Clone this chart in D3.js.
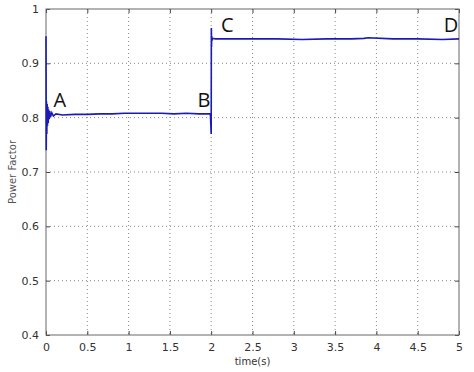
<!DOCTYPE html>
<html>
<head>
<meta charset="utf-8">
<script src="https://cdn.jsdelivr.net/npm/d3@7"></script>
<style>
  body { margin: 0; background: #fff; }
  svg { display: block; }
</style>
</head>
<body>
<div id="chart"></div>
<script>
// time axis samples (s) and power factor readings
const timeS = [0, 0.003, 0.006, 0.01, 0.014, 0.018, 0.022, 0.027, 0.032, 0.038, 0.045, 0.055, 0.07, 0.09, 0.12,
  0.2, 0.35, 0.5, 0.65, 0.8, 0.95, 1.1, 1.25, 1.4, 1.55, 1.7, 1.85, 1.99,
  2.0, 2.002, 2.004, 2.006, 2.01, 2.02, 2.05, 2.2, 2.5, 2.8, 3.1, 3.4, 3.7, 3.85, 3.9, 4.2, 4.5, 4.8, 5.0];
const powerFactor = [0.95, 0.74, 0.83, 0.77, 0.825, 0.785, 0.82, 0.79, 0.815, 0.797, 0.812, 0.801, 0.809, 0.803, 0.807,
  0.805, 0.806, 0.806, 0.807, 0.807, 0.808, 0.808, 0.808, 0.808, 0.807, 0.808, 0.807, 0.807,
  0.77, 0.965, 0.93, 0.95, 0.942, 0.946, 0.945, 0.945, 0.945, 0.945, 0.944, 0.945, 0.945, 0.946, 0.947, 0.945, 0.945, 0.944, 0.945];
const xTicks = [0, 0.5, 1, 1.5, 2, 2.5, 3, 3.5, 4, 4.5, 5];
const yTicks = [0.4, 0.5, 0.6, 0.7, 0.8, 0.9, 1];
// point labels
const pointNames = ["A", "B", "C", "D"];
const pointTimes = [0.09, 1.99, 2.12, 4.99];
const pointValues = [0.82, 0.82, 0.958, 0.958];

const margin = { top: 9, right: 15, bottom: 37, left: 46 },
    width = 474 - margin.left - margin.right,
    height = 372 - margin.top - margin.bottom;

const svg = d3.select("#chart")
    .append("svg")
    .attr("width", 474)
    .attr("height", 372)
    .append("g")
    .attr("transform", "translate(" + margin.left + "," + margin.top + ")");

const x = d3.scaleLinear().domain([0, 5]).range([0, width]);
const y = d3.scaleLinear().domain([0.4, 1]).range([height, 0]);

// grid lines
svg.append("g")
    .selectAll("line")
    .data(xTicks.slice(1, -1))
    .enter().append("line")
    .attr("x1", d => x(d)).attr("x2", d => x(d))
    .attr("y1", 0).attr("y2", height)
    .attr("stroke", "#888")
    .attr("stroke-width", 1)
    .attr("stroke-dasharray", "1,3");

svg.append("g")
    .selectAll("line")
    .data(yTicks.slice(1, -1))
    .enter().append("line")
    .attr("y1", d => y(d)).attr("y2", d => y(d))
    .attr("x1", 0).attr("x2", width)
    .attr("stroke", "#888")
    .attr("stroke-width", 1)
    .attr("stroke-dasharray", "1,3");

// axes (ticks pointing inward)
const xAxis = svg.append("g")
    .attr("transform", "translate(0," + height + ")")
    .call(d3.axisBottom(x).tickValues(xTicks).tickSizeInner(-4).tickSizeOuter(0).tickPadding(8).tickFormat(d3.format("")));
const yAxis = svg.append("g")
    .call(d3.axisLeft(y).tickValues(yTicks).tickSizeInner(-4).tickSizeOuter(0).tickPadding(7).tickFormat(d3.format("")));

[xAxis, yAxis].forEach(a => {
    a.select(".domain").remove();
    a.selectAll("line").attr("stroke", "#444");
    a.selectAll("text")
        .attr("fill", "#333")
        .style("font-family", "DejaVu Sans, sans-serif")
        .style("font-size", "11px");
});

// top/right ticks
svg.append("g")
    .call(d3.axisTop(x).tickValues(xTicks).tickSizeInner(-4).tickSizeOuter(0).tickFormat(""))
    .call(g => { g.select(".domain").remove(); g.selectAll("line").attr("stroke", "#444"); });
svg.append("g")
    .attr("transform", "translate(" + width + ",0)")
    .call(d3.axisRight(y).tickValues(yTicks).tickSizeInner(-4).tickSizeOuter(0).tickFormat(""))
    .call(g => { g.select(".domain").remove(); g.selectAll("line").attr("stroke", "#444"); });

// box
svg.append("rect")
    .attr("width", width)
    .attr("height", height)
    .attr("fill", "none")
    .attr("stroke", "#666")
    .attr("stroke-width", 1);

// series
const line = d3.line()
    .x((d, i) => x(timeS[i]))
    .y(d => y(d));

svg.append("path")
    .datum(powerFactor)
    .attr("fill", "none")
    .attr("stroke", "#1c1cb4")
    .attr("stroke-width", 1.6)
    .attr("d", line);

// point labels
svg.selectAll(".pt")
    .data(pointNames)
    .enter().append("text")
    .attr("class", "pt")
    .attr("x", (d, i) => x(pointTimes[i]))
    .attr("y", (d, i) => y(pointValues[i]))
    .attr("text-anchor", (d, i) => i === 1 || i === 3 ? "end" : "start")
    .attr("fill", "#111")
    .style("font-family", "Open Sans, sans-serif")
    .style("font-size", "20px")
    .text(d => d);

// axis labels
svg.append("text")
    .attr("x", width / 2)
    .attr("y", height + 30)
    .attr("text-anchor", "middle")
    .attr("fill", "#333")
    .style("font-family", "DejaVu Sans, sans-serif")
    .style("font-size", "10px")
    .text("time(s)");

svg.append("text")
    .attr("transform", "rotate(-90)")
    .attr("x", -height / 2)
    .attr("y", -30)
    .attr("text-anchor", "middle")
    .attr("fill", "#555")
    .style("font-family", "DejaVu Sans, sans-serif")
    .style("font-size", "10px")
    .text("Power Factor");
</script>
</body>
</html>
